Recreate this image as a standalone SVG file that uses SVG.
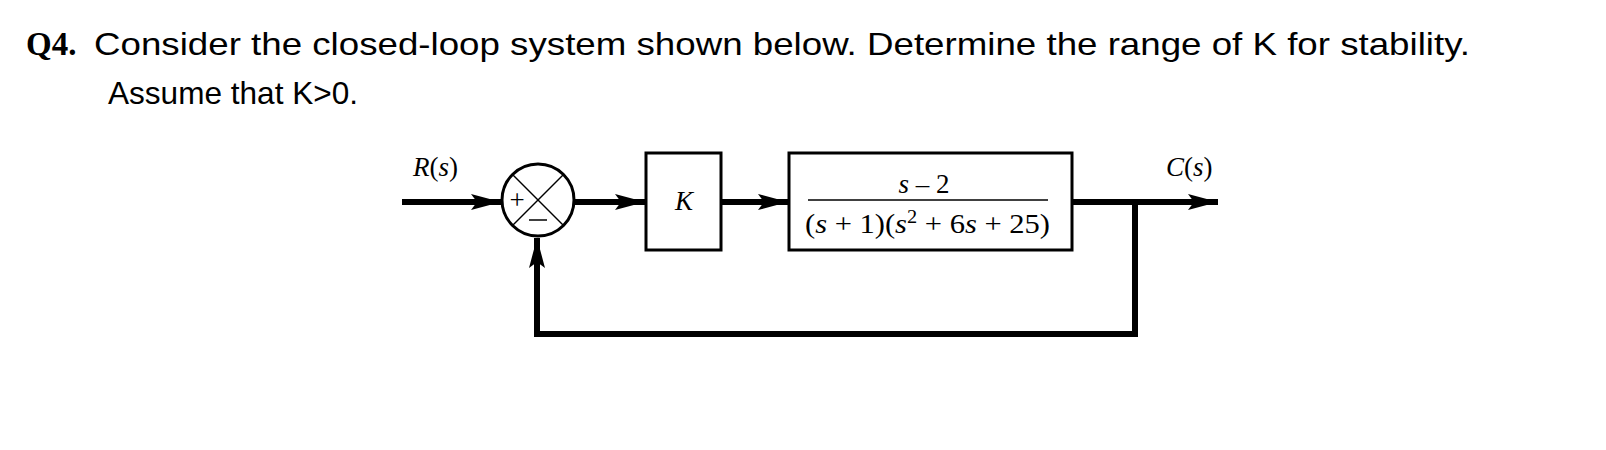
<svg xmlns="http://www.w3.org/2000/svg" width="1606" height="450" viewBox="0 0 1606 450">
<style>
.t{font-family:"Liberation Sans",Arial,sans-serif;font-size:32px;fill:#000}
.m{font-family:"Liberation Serif","Times New Roman",serif;font-size:27px;fill:#000}
.i{font-style:italic}
.w{stroke:#000;stroke-width:6;fill:none}
.b{stroke:#000;stroke-width:3;fill:#fff}
</style>
<defs>
<marker id="ah2" viewBox="0 0 30 16" refX="30" refY="8" markerWidth="30" markerHeight="16" orient="auto" markerUnits="userSpaceOnUse">
<path d="M0,0 L30,8 L0,16 L6,8 Z" fill="#000"/>
</marker>
</defs>
<g id="title">
<text x="26" y="55" font-family="Liberation Serif,serif" font-weight="bold" font-size="33">Q4.</text>
<text class="t" x="94" y="55" textLength="1376" lengthAdjust="spacingAndGlyphs">Consider the closed-loop system shown below. Determine the range of K for stability.</text>
<text class="t" x="108" y="104" textLength="250" lengthAdjust="spacingAndGlyphs">Assume that K&gt;0.</text>
</g>
<g id="connectors">
<line class="w" x1="402" y1="202" x2="501" y2="202" marker-end="url(#ah2)"/>
<line class="w" x1="575" y1="202" x2="645" y2="202" marker-end="url(#ah2)"/>
<line class="w" x1="721" y1="202" x2="788" y2="202" marker-end="url(#ah2)"/>
<line class="w" x1="1072" y1="202" x2="1218" y2="202" marker-end="url(#ah2)"/>
<polyline class="w" points="1135,202 1135,334 537,334 537,238" marker-end="url(#ah2)"/>
</g>
<g id="sum">
<circle class="b" cx="538" cy="200" r="36"/>
<line x1="512.5" y1="174.5" x2="563.5" y2="225.5" stroke="#000" stroke-width="1.5"/>
<line x1="563.5" y1="174.5" x2="512.5" y2="225.5" stroke="#000" stroke-width="1.5"/>
<text class="m" x="517" y="209" text-anchor="middle" font-size="28">+</text>
<line x1="529" y1="220" x2="547" y2="220" stroke="#000" stroke-width="1.5"/>
</g>
<g id="gainK">
<rect class="b" x="646" y="153" width="75" height="97"/>
<text class="m i" x="684" y="210" text-anchor="middle">K</text>
</g>
<g id="plant">
<rect class="b" x="789" y="153" width="283" height="97"/>
<text class="m" x="924" y="193" text-anchor="middle"><tspan font-style="italic">s</tspan> – 2</text>
<line x1="808" y1="200" x2="1048" y2="200" stroke="#000" stroke-width="1.5"/>
<text class="m" x="805" y="233" textLength="245" lengthAdjust="spacingAndGlyphs">(<tspan font-style="italic">s</tspan> + 1)(<tspan font-style="italic">s</tspan><tspan font-size="18" dy="-10">2</tspan><tspan dy="10"> + 6</tspan><tspan font-style="italic">s</tspan> + 25)</text>
</g>
<g id="labels">
<text class="m" x="413" y="176"><tspan font-style="italic">R</tspan>(<tspan font-style="italic">s</tspan>)</text>
<text class="m" x="1166" y="176"><tspan font-style="italic">C</tspan>(<tspan font-style="italic">s</tspan>)</text>
</g>
</svg>
